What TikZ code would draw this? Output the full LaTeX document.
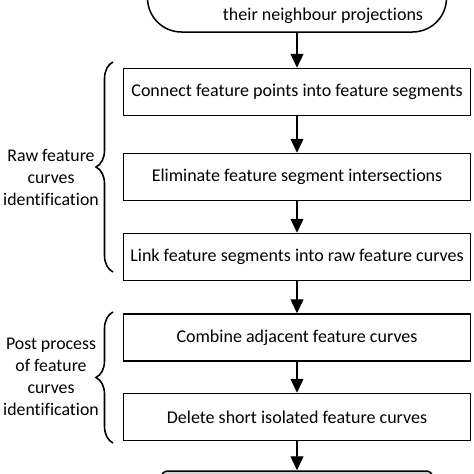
\documentclass[tikz,border=0pt]{standalone}
\usepackage{fontspec}
\setmainfont{Carlito}[Ligatures=NoCommon]
\usetikzlibrary{arrows.meta,decorations.pathreplacing}
\begin{document}
\begin{tikzpicture}[x=1pt,y=-1pt,
 stepbox/.style={draw, line width=1.5pt, minimum width=347pt, minimum height=47pt, inner sep=0pt, font=\fontsize{18}{21}\selectfont},
 arr/.style={-{Triangle[width=13pt,length=14pt]}, line width=1.4pt},
 grp/.style={font=\fontsize{17.8}{22}\selectfont, align=center, inner sep=0pt},
 br/.style={decorate, decoration={brace, amplitude=17pt}, line width=1.6pt}]
\useasboundingbox (0,0) rectangle (474,474);
\clip (0,0) rectangle (474,474);
\node[draw, line width=1.5pt, rounded corners=34pt, minimum width=299pt, minimum height=80pt] (start) at (297,-8) {};
\node[font=\fontsize{18}{21}\selectfont, inner sep=0pt] (starttxt) at (323,16) {their neighbour projections};
\node[stepbox] (b1) at (297,92) {Connect feature points into feature segments};
\node[stepbox] (b2) at (297,177) {Eliminate feature segment intersections};
\node[stepbox] (b3) at (297,257) {Link feature segments into raw feature curves};
\node[stepbox] (b4) at (297,337.5) {Combine adjacent feature curves};
\node[stepbox] (b5) at (297,417) {Delete short isolated feature curves};
\node[draw, line width=1.5pt, fill=gray!35, rounded corners=6pt, minimum width=271pt, minimum height=40pt] (end) at (297,491) {};
\draw[arr] (start) -- (b1);
\draw[arr] (b1) -- (b2);
\draw[arr] (b2) -- (b3);
\draw[arr] (b3) -- (b4);
\draw[arr] (b4) -- (b5);
\draw[arr] (b5) -- (end);
\coordinate (r1) at (113,272);
\coordinate (r2) at (113,62);
\coordinate (p1) at (113,443);
\coordinate (p2) at (113,312);
\draw[br] (r1) -- (r2);
\draw[br] (p1) -- (p2);
\node[grp] (raw) at (51,177) {Raw feature\\curves\\identification};
\node[grp] (post) at (51,377) {Post process\\of feature\\curves\\identification};
\end{tikzpicture}
\end{document}
